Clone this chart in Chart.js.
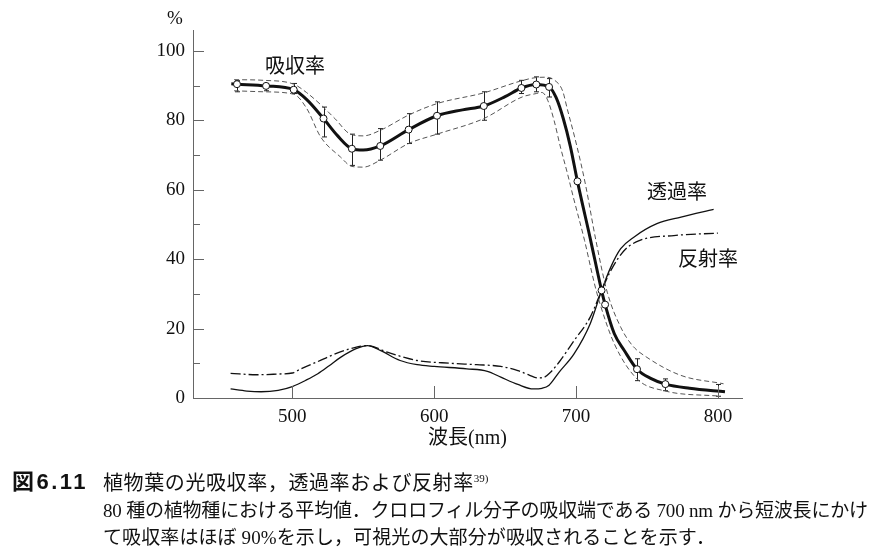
<!DOCTYPE html>
<html>
<head>
<meta charset="utf-8">
<script src="https://cdn.jsdelivr.net/npm/chart.js@4.4.1/dist/chart.umd.min.js"></script>
<style>
html, body { margin: 0; padding: 0; background: #fff; }
#wrap { position: relative; width: 886px; height: 557px; overflow: hidden; }
canvas { position: absolute; left: 0; top: 0; }
.cap { position: absolute; white-space: nowrap; color: #111; line-height: 1;
       font-family: "Liberation Serif", "Noto Sans CJK JP", serif; font-size: 19px; }
.fig { left: 12px; top: 471px; font-family: "Liberation Sans", "Noto Sans CJK JP", sans-serif;
       font-size: 22px; font-weight: bold; letter-spacing: 2.5px; }
sup { font-size: 11px; vertical-align: 8px; letter-spacing: 0; }
</style>
</head>
<body>
<div id="wrap">
  <canvas id="grafico" width="886" height="557"></canvas>
  <div class="cap fig">図6.11</div>
  <div class="cap" style="left:103px;top:473px;font-size:20px;letter-spacing:0.6px;">植物葉の光吸収率，透過率および反射率<sup>39)</sup></div>
  <div class="cap" style="left:103px;top:501px;letter-spacing:-0.2px;">80 種の植物種における平均値．クロロフィル分子の吸収端である 700 nm から短波長にかけ</div>
  <div class="cap" style="left:103px;top:528px;letter-spacing:0.1px;">て吸収率はほぼ 90%を示し，可視光の大部分が吸収されることを示す．</div>
</div>
<script>
// ---- dados ----
const xTicks = [500, 600, 700, 800];
const yTicks = [0, 20, 40, 60, 80, 100];
const yMinor = [10, 30, 50, 70, 90];

// absorcao: pontos medidos (circulos)
const absPtWl  = [461, 481.5, 501, 522, 542, 562, 582, 602, 635, 661.5, 672, 681, 701, 718, 720.5, 743, 763];
const absPtVal = [90.4, 89.9, 88.8, 80.5, 71.8, 72.6, 77.3, 81.3, 84.1, 89.3, 90.3, 89.6, 62.4, 31, 26.9, 8.3, 4.0];

// absorcao: curva grossa
const absWl  = [457, 461, 481.5, 501, 510, 522, 532, 542, 550, 562, 582, 602, 620, 635, 650, 661.5, 672, 681, 686, 691, 696, 701, 710, 718, 720.5, 727, 734, 743, 753, 763, 780, 805];
const absVal = [90.5, 90.4, 89.9, 88.8, 86, 80.5, 75.5, 71.8, 71.4, 72.6, 77.3, 81.3, 83, 84.1, 86.8, 89.3, 90.3, 89.6, 86.5, 80.5, 72.5, 62.4, 46, 31, 26.9, 18.5, 13.7, 8.3, 5.6, 4.0, 2.8, 1.8];

// faixa tracejada superior / inferior
const upWl  = [459, 480, 501, 510, 520, 530, 541, 550, 562, 582, 602, 635, 661, 672, 679, 685, 690.5, 694, 699, 703.5, 707, 714, 722, 731.5, 740, 750, 774, 804];
const upVal = [91.7, 91.5, 90.4, 88, 84.5, 80.5, 76, 75.5, 77.1, 81.5, 84.8, 87.9, 91.3, 92.3, 92.4, 91.5, 88.5, 83, 75.2, 67.5, 60.8, 45.4, 30.5, 20.4, 15, 11.7, 6.5, 4.1];
const loWl  = [459, 480, 501, 510, 520, 534, 542, 550, 562, 582, 602, 635, 662, 672, 676, 680, 684.5, 689, 694, 698, 706, 713, 717, 727, 743, 762, 802];
const loVal = [88.5, 88.2, 87.5, 83.5, 75.2, 69.4, 66.7, 66.5, 68.5, 73.3, 76, 80.5, 86.7, 87.7, 88, 85.8, 80, 72.3, 64.6, 58, 45.4, 32.9, 27, 15.6, 5.5, 2.1, 0.5];

// barras de erro
const errWl = [461, 481.5, 501, 522, 542, 562, 582, 602, 635, 661.5, 672, 681, 743, 763, 800];
const errHi = [91.4, 90.6, 90.6, 83.8, 76, 77.6, 81.9, 85.3, 88.2, 91.5, 92.5, 92, 11.3, 5.5, 3.9];
const errLo = [88.2, 88.5, 87.7, 75.2, 67, 68.5, 73.3, 76, 80, 87.7, 88.2, 86.7, 5, 2.1, 0.5];

// transmitancia (linha fina)
const trWl  = [456.5, 468, 478, 490, 500, 510, 518, 526, 534, 545, 553, 562, 576, 588, 600, 623, 637.5, 647, 659, 670, 676, 681, 688, 698.6, 710, 718, 724.5, 731.5, 741, 757, 774, 797];
const trVal = [2.6, 2.0, 1.8, 2.2, 3.3, 5.2, 7.0, 9.3, 11.7, 14.2, 15.1, 13.7, 10.8, 9.6, 9.1, 8.4, 7.7, 6.0, 3.9, 2.6, 2.8, 3.7, 7.4, 12.7, 21.4, 30.9, 37.7, 43, 46.4, 50.2, 52.1, 54.3];

// refletancia (traco-ponto)
const rfWl  = [456.5, 475, 490, 500, 506, 518, 529, 541, 553, 567, 578, 588, 611.6, 630, 647, 659, 667, 673, 677, 682, 688, 698.6, 710, 718, 724.5, 734, 745, 769, 800];
const rfVal = [7.1, 6.7, 6.9, 7.2, 8.4, 10.5, 12.5, 14.2, 15.1, 13.2, 11.8, 10.8, 10.0, 9.6, 9.1, 7.9, 6.6, 5.8, 5.9, 7.4, 10.3, 16.5, 23.3, 30.9, 36.7, 42.5, 45.4, 46.8, 47.5];

function pares(xs, ys) {
    return xs.map((x, i) => ({ x: x, y: ys[i] }));
}

const fonteSerif = '"Liberation Serif", "Noto Sans CJK JP", serif';
const fonteJP = '"Noto Sans CJK JP", sans-serif';

// ticks internos, rotulos e barras de erro
const extras = {
    id: 'extras',
    beforeDatasetsDraw(chart) {
        const ctx = chart.ctx;
        const x = chart.scales.x, y = chart.scales.y;
        ctx.save();
        ctx.strokeStyle = '#222';
        ctx.lineWidth = 1;
        errWl.forEach((w, i) => {
            const px = Math.round(x.getPixelForValue(w)) + 0.5;
            const a = y.getPixelForValue(errHi[i]);
            const b = y.getPixelForValue(errLo[i]);
            ctx.beginPath();
            ctx.moveTo(px, a); ctx.lineTo(px, b);
            ctx.moveTo(px - 2.5, a); ctx.lineTo(px + 2.5, a);
            ctx.moveTo(px - 2.5, b); ctx.lineTo(px + 2.5, b);
            ctx.stroke();
        });
        ctx.restore();
    },
    afterDraw(chart) {
        const ctx = chart.ctx;
        const x = chart.scales.x, y = chart.scales.y;
        const area = chart.chartArea;
        ctx.save();
        ctx.strokeStyle = '#666';
        ctx.lineWidth = 1;
        ctx.beginPath();
        yTicks.concat(yMinor).forEach(v => {
            if (v === 0) return;
            const py = Math.round(y.getPixelForValue(v)) + 0.5;
            const len = yMinor.includes(v) ? 7 : 11;
            ctx.moveTo(area.left, py); ctx.lineTo(area.left + len, py);
        });
        xTicks.forEach(v => {
            const px = Math.round(x.getPixelForValue(v)) + 0.5;
            ctx.moveTo(px, area.bottom); ctx.lineTo(px, area.bottom - 12);
        });
        ctx.stroke();

        ctx.fillStyle = '#111';
        ctx.textAlign = 'center';
        ctx.textBaseline = 'middle';
        ctx.font = '19px ' + fonteSerif;
        ctx.fillText('%', 175, 19);
        ctx.font = '20px ' + fonteSerif;
        ctx.fillText('波長(nm)', (area.left + area.right) / 2, 439);
        ctx.font = '20px ' + fonteJP;
        ctx.fillText('吸収率', 295, 65);
        ctx.fillText('透過率', 677, 191);
        ctx.fillText('反射率', 708, 258);
        ctx.restore();
    }
};

const ctx = document.getElementById('grafico').getContext('2d');
const grafico = new Chart(ctx, {
    type: 'line',
    data: {
        datasets: [
            {
                label: '吸収率 (測定点)',
                data: pares(absPtWl, absPtVal),
                showLine: false,
                pointRadius: 3.5,
                pointBackgroundColor: '#fff',
                pointBorderColor: '#111',
                pointBorderWidth: 1
            },
            {
                label: '吸収率',
                data: pares(absWl, absVal),
                borderColor: '#111',
                borderWidth: 3,
                pointRadius: 0,
                cubicInterpolationMode: 'monotone'
            },
            {
                label: '上限',
                data: pares(upWl, upVal),
                borderColor: '#555',
                borderWidth: 1,
                borderDash: [5, 3],
                pointRadius: 0,
                cubicInterpolationMode: 'monotone'
            },
            {
                label: '下限',
                data: pares(loWl, loVal),
                borderColor: '#555',
                borderWidth: 1,
                borderDash: [5, 3],
                pointRadius: 0,
                cubicInterpolationMode: 'monotone'
            },
            {
                label: '透過率',
                data: pares(trWl, trVal),
                borderColor: '#111',
                borderWidth: 1.3,
                pointRadius: 0,
                cubicInterpolationMode: 'monotone'
            },
            {
                label: '反射率',
                data: pares(rfWl, rfVal),
                borderColor: '#111',
                borderWidth: 1.3,
                borderDash: [10, 3, 2, 3],
                pointRadius: 0,
                cubicInterpolationMode: 'monotone'
            }
        ]
    },
    options: {
        responsive: false,
        animation: false,
        layout: { padding: { left: 0, right: 144, top: 30, bottom: 99 } },
        plugins: { legend: { display: false }, tooltip: { enabled: false } },
        scales: {
            x: {
                type: 'linear',
                min: 430,
                max: 817,
                grid: { display: false, drawTicks: false },
                border: { color: '#666', width: 1 },
                afterBuildTicks: s => { s.ticks = xTicks.map(v => ({ value: v })); },
                afterFit: s => { s.height = 60; },
                ticks: { color: '#111', padding: 8, font: { family: fonteSerif, size: 19 } }
            },
            y: {
                min: 0,
                max: 106,
                grid: { display: false, drawTicks: false },
                border: { color: '#666', width: 1 },
                afterBuildTicks: s => { s.ticks = yTicks.map(v => ({ value: v })); },
                afterFit: s => { s.width = 193; },
                ticks: { color: '#111', padding: 8, font: { family: fonteSerif, size: 19 } }
            }
        }
    },
    plugins: [extras]
});
</script>
</body>
</html>
